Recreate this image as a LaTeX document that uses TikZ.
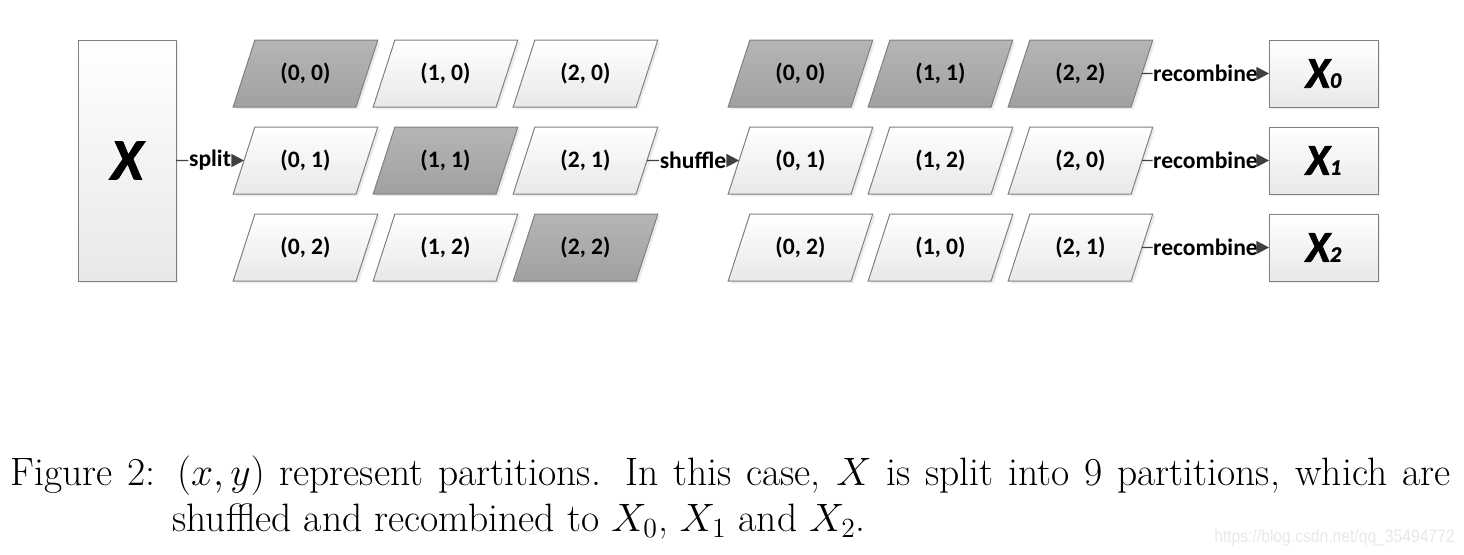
\documentclass[tikz,border=0pt]{standalone}
\usepackage{fix-cm}
\usepackage{fontspec}
\newfontfamily\visiofont{Carlito}
\newfontfamily\heavyfont[BoldItalicFeatures={FakeBold=1.6}]{Carlito}
\newfontfamily\markfont[FakeStretch=0.87]{Liberation Sans}
\usetikzlibrary{shapes.geometric, arrows.meta, shadows}

\tikzset{
    partbox/.style={trapezium, trapezium left angle=63, trapezium right angle=117,
        trapezium stretches=true, minimum width=72.5pt, minimum height=33.5pt,
        inner sep=0pt, outer sep=0pt, draw=black!50, line width=.5pt,
        top color=white, bottom color=black!9,
        drop shadow={shadow xshift=1.2pt, shadow yshift=-1.2pt, fill=black!12, opacity=.6},
        font=\visiofont\bfseries\fontsize{11.8}{12}\selectfont},
    hit/.style={top color=black!29, bottom color=black!37},
    blockbox/.style={rectangle, inner sep=0pt, outer sep=0pt, draw=black!50, line width=.5pt,
        top color=white, bottom color=black!9,
        drop shadow={shadow xshift=1.2pt, shadow yshift=-1.2pt, fill=black!12, opacity=.6},
        font=\heavyfont\bfseries\itshape},
    flowline/.style={draw=black!75, line width=.6pt},
    flowtip/.style={flowline, -{Triangle[length=6.3pt, width=6.5pt]}},
    flowlabel/.style={inner sep=.3pt, outer sep=0pt, text=black,
        font=\visiofont\bfseries\fontsize{11.8}{12}\selectfont}
}

\begin{document}
\begin{tikzpicture}[x=.5pt, y=-.5pt]
            \useasboundingbox (0,0) rectangle (1464,554);
            % input
            \node[blockbox, minimum width=49pt, minimum height=120.5pt,
                  font=\heavyfont\bfseries\itshape\fontsize{29}{29}\selectfont] (X) at (127,160.5) {X};
            % partitions
            \node[partbox, hit] (p00) at (305.5,73.5)  {(0, 0)};
            \node[partbox]      (p10) at (445.5,73.5)  {(1, 0)};
            \node[partbox]      (p20) at (585.5,73.5)  {(2, 0)};
            \node[partbox]      (p01) at (305.5,160.5) {(0, 1)};
            \node[partbox, hit] (p11) at (445.5,160.5) {(1, 1)};
            \node[partbox]      (p21) at (585.5,160.5) {(2, 1)};
            \node[partbox]      (p02) at (305.5,247.5) {(0, 2)};
            \node[partbox]      (p12) at (445.5,247.5) {(1, 2)};
            \node[partbox, hit] (p22) at (585.5,247.5) {(2, 2)};
            % shuffled
            \node[partbox, hit] (s00) at (800.5,73.5)   {(0, 0)};
            \node[partbox, hit] (s11) at (940.5,73.5)   {(1, 1)};
            \node[partbox, hit] (s22) at (1080.5,73.5)  {(2, 2)};
            \node[partbox]      (s01) at (800.5,160.5)  {(0, 1)};
            \node[partbox]      (s12) at (940.5,160.5)  {(1, 2)};
            \node[partbox]      (s20) at (1080.5,160.5) {(2, 0)};
            \node[partbox]      (s02) at (800.5,247.5)  {(0, 2)};
            \node[partbox]      (s10) at (940.5,247.5)  {(1, 0)};
            \node[partbox]      (s21) at (1080.5,247.5) {(2, 1)};
            % outputs
            \node[blockbox, minimum width=54.5pt, minimum height=33.5pt,
                  font=\heavyfont\bfseries\itshape\fontsize{22}{22}\selectfont] (X0) at (1323.5,73.5)
                  {X{\fontsize{11}{11}\selectfont 0}};
            \node[blockbox, minimum width=54.5pt, minimum height=33.5pt,
                  font=\heavyfont\bfseries\itshape\fontsize{22}{22}\selectfont] (X1) at (1323.5,160.5)
                  {X{\fontsize{11}{11}\selectfont 1}};
            \node[blockbox, minimum width=54.5pt, minimum height=33.5pt,
                  font=\heavyfont\bfseries\itshape\fontsize{22}{22}\selectfont] (X2) at (1323.5,247.5)
                  {X{\fontsize{11}{11}\selectfont 2}};
            % arrow labels
            \path (X) -- node[flowlabel] (split) {split} (p01)
                  (p21) -- node[flowlabel] (shuffle) {shuffle} (s01)
                  (s22) -- node[flowlabel] (rec0) {recombine} (X0)
                  (s20) -- node[flowlabel] (rec1) {recombine} (X1)
                  (s21) -- node[flowlabel] (rec2) {recombine} (X2);
            % arrows
            \draw[flowline] (X) -- (split)  (p21) -- (shuffle)
                  (s22) -- (rec0)  (s20) -- (rec1)  (s21) -- (rec2);
            \draw[flowtip] (split) -- (p01);
            \draw[flowtip] (shuffle) -- (s01);
            \draw[flowtip] (rec0) -- (X0);
            \draw[flowtip] (rec1) -- (X1);
            \draw[flowtip] (rec2) -- (X2);
            % caption
            \node[anchor=north west, inner sep=0pt, text width=720pt, align=justify,
                  font=\fontsize{19.8}{23}\selectfont] (cap) at (10,455)
                  {\hangindent=81pt\hangafter=1 Figure 2: $(x, y)$ represent partitions. In this case, $X$ is split into 9 partitions, which are\linebreak shuffled and recombined to $X_0$, $X_1$ and $X_2$.\par};
            \node[anchor=base east, inner sep=0pt, text=black!9,
                  font=\markfont\fontsize{9}{9}\selectfont] (mark) at (1455,542) {https://blog.csdn.net/qq\_35494772};
\end{tikzpicture}
\end{document}
